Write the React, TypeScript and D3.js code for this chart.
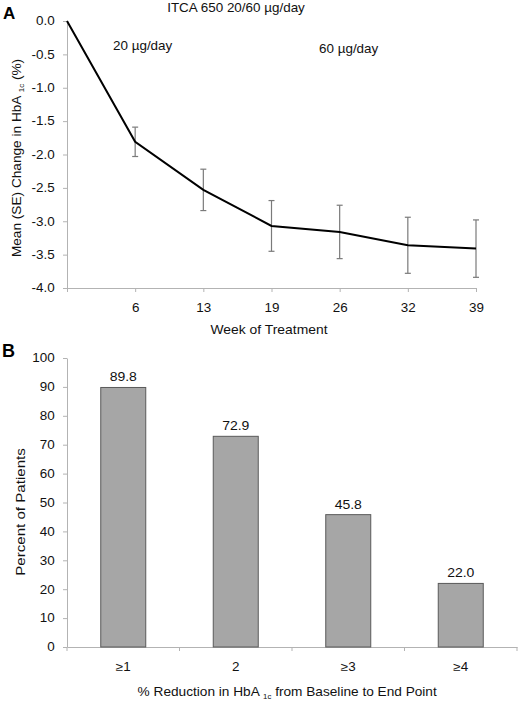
import React, { useRef, useEffect } from 'react';
import * as d3 from 'd3';

// panel A: mean (SE) change in HbA1c by week
const weeks = ['0', '6', '13', '19', '26', '32', '39'];
const meanChange = [0, -1.81, -2.53, -3.07, -3.16, -3.36, -3.41];
const seChange = [0, 0.22, 0.31, 0.38, 0.4, 0.42, 0.43];
const yTicksA = [0, -0.5, -1, -1.5, -2, -2.5, -3, -3.5, -4];

// panel B: percent of patients by HbA1c reduction
const reductionCats = ['≥1', '2', '≥3', '≥4'];
const percentPatients = [89.8, 72.9, 45.8, 22.0];
const yTicksB = [0, 10, 20, 30, 40, 50, 60, 70, 80, 90, 100];

const FONT = "'Liberation Sans', Arial, Helvetica, sans-serif";
const STRETCH = 1.12;
const AXIS_COLOR = '#b3b3b3';

const App: React.FC = () => {
  const svgRef = useRef<SVGSVGElement | null>(null);
  const width = 520;
  const height = 701;

  useEffect(() => {
    const svg = d3.select(svgRef.current);
    svg.selectAll('*').remove();

    const styleAxis = (g: d3.Selection<SVGGElement, unknown, null, undefined>) => {
      g.select('.domain').attr('stroke', AXIS_COLOR);
      g.selectAll('.tick line').attr('stroke', AXIS_COLOR);
      g.selectAll('.tick text')
        .attr('fill', '#111')
        .attr('font-family', FONT)
        .attr('font-size', 12)
        .attr('transform', `scale(${STRETCH},1)`);
    };

    // ---------- Panel A ----------
    const xA = d3.scalePoint<string>().domain(weeks).range([67, 476]);
    const yA = d3.scaleLinear().domain([-4, 0]).range([288, 21]);

    const gA = svg.append('g');

    gA.append('g')
      .attr('transform', `translate(67,0)`)
      .call(
        d3.axisLeft(yA)
          .tickValues(yTicksA)
          .tickSize(4)
          .tickSizeOuter(0)
          .tickPadding(7)
          .tickFormat(d => (d as number).toFixed(1))
      )
      .call(styleAxis);

    gA.append('g')
      .attr('transform', `translate(0,288)`)
      .call(
        d3.axisBottom(xA)
          .tickSize(4)
          .tickSizeOuter(0)
          .tickPadding(11)
          .tickFormat(d => (d === '0' ? '' : d))
      )
      .call(styleAxis);

    // error bars
    const errData = weeks
      .map((w, i) => ({ w, m: meanChange[i], se: seChange[i] }))
      .filter(d => d.se > 0);
    const eb = gA.append('g').attr('stroke', '#7a7a7a').attr('stroke-width', 1.2);
    errData.forEach(d => {
      const x = xA(d.w) as number;
      eb.append('line')
        .attr('x1', x).attr('x2', x)
        .attr('y1', yA(d.m + d.se)).attr('y2', yA(d.m - d.se));
      [d.m + d.se, d.m - d.se].forEach(v => {
        eb.append('line')
          .attr('x1', x - 3).attr('x2', x + 3)
          .attr('y1', yA(v)).attr('y2', yA(v));
      });
    });

    const line = d3.line<number>()
      .x((_, i) => xA(weeks[i]) as number)
      .y(d => yA(d));

    gA.append('path')
      .datum(meanChange)
      .attr('fill', 'none')
      .attr('stroke', '#000')
      .attr('stroke-width', 2)
      .attr('d', line);

    const addText = (
      parent: d3.Selection<any, unknown, null, undefined>,
      x: number,
      y: number,
      txt: string,
      size = 12,
      anchor = 'middle',
      rotate = 0
    ) =>
      parent.append('text')
        .attr('transform', `translate(${x},${y}) rotate(${rotate}) scale(${STRETCH},1)`)
        .attr('text-anchor', anchor)
        .attr('font-family', FONT)
        .attr('font-size', size)
        .attr('fill', '#111')
        .text(txt);

    svg.append('text')
      .attr('x', 3).attr('y', 19)
      .attr('font-family', FONT)
      .attr('font-size', 17)
      .attr('font-weight', 'bold')
      .text('A');

    addText(gA, 236, 12, 'ITCA 650 20/60 µg/day');
    addText(gA, 113, 50, '20 µg/day', 12, 'start');
    addText(gA, 319, 53, '60 µg/day', 12, 'start');
    addText(gA, 269, 334, 'Week of Treatment', 12.4);

    const yLabA = addText(gA, 21, 158, 'Mean (SE) Change in HbA', 12.2, 'middle', -90);
    yLabA.append('tspan').attr('font-size', 7).attr('dx', 3).attr('dy', 3).text('1c');
    yLabA.append('tspan').attr('dy', -3).text(' (%)');

    // ---------- Panel B ----------
    const xB = d3.scaleBand<string>()
      .domain(reductionCats)
      .range([67, 517])
      .paddingInner(0.6)
      .paddingOuter(0.3);
    const yB = d3.scaleLinear().domain([0, 100]).range([647, 358]);

    const gB = svg.append('g');

    gB.append('g')
      .attr('transform', `translate(67,0)`)
      .call(
        d3.axisLeft(yB)
          .tickValues(yTicksB)
          .tickSize(4)
          .tickSizeOuter(0)
          .tickPadding(7)
          .tickFormat(d => String(d))
      )
      .call(styleAxis);

    gB.append('g')
      .attr('transform', `translate(0,647)`)
      .call(d3.axisBottom(xB).tickSize(0).tickSizeOuter(0).tickPadding(15))
      .call(styleAxis);

    // boundary ticks between categories
    const step = xB.step();
    const gap = (step - xB.bandwidth()) / 2;
    const bounds = reductionCats.map(c => (xB(c) as number) - gap).concat([517]);
    gB.append('g')
      .selectAll('line')
      .data(bounds)
      .join('line')
      .attr('x1', d => d).attr('x2', d => d)
      .attr('y1', 647).attr('y2', 651)
      .attr('stroke', AXIS_COLOR);

    gB.append('g')
      .selectAll('rect')
      .data(percentPatients)
      .join('rect')
      .attr('x', (_, i) => xB(reductionCats[i]) as number)
      .attr('y', d => yB(d))
      .attr('width', xB.bandwidth())
      .attr('height', d => yB(0) - yB(d))
      .attr('fill', '#a6a6a6')
      .attr('stroke', '#5a5a5a')
      .attr('stroke-width', 1);

    percentPatients.forEach((v, i) => {
      addText(gB, (xB(reductionCats[i]) as number) + xB.bandwidth() / 2, yB(v) - 6, v.toFixed(1), 12.5);
    });

    svg.append('text')
      .attr('x', 2).attr('y', 357)
      .attr('font-family', FONT)
      .attr('font-size', 18)
      .attr('font-weight', 'bold')
      .text('B');

    addText(gB, 25, 512, 'Percent of Patients', 13.5, 'middle', -90);

    const xLabB = addText(gB, 286, 696, '% Reduction in HbA', 12.2, 'start');
    xLabB.append('tspan').attr('font-size', 7).attr('dx', 3).attr('dy', 3).text('1c');
    xLabB.append('tspan').attr('dy', -3).text(' from Baseline to End Point');
    const node = xLabB.node() as SVGTextElement | null;
    if (node) {
      const w = node.getComputedTextLength() * STRETCH;
      xLabB.attr('transform', `translate(${285.5 - w / 2},696) scale(${STRETCH},1)`);
    }
  }, []);

  return (
    <div style={{ position: 'absolute', left: 0, top: 0 }}>
      <svg ref={svgRef} width={width} height={height} style={{ display: 'block', background: '#fff' }} />
    </div>
  );
};

export default App;
